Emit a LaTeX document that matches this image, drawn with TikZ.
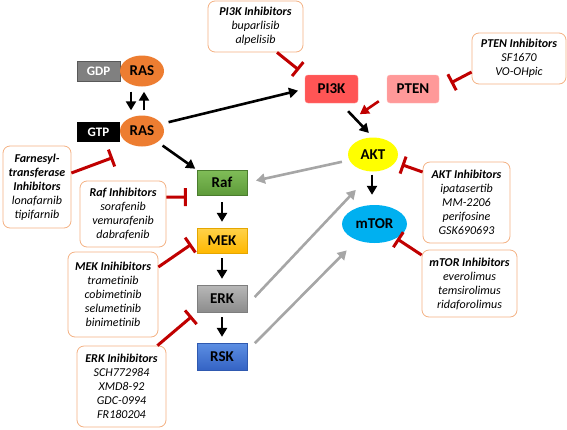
\documentclass[tikz,border=0pt]{standalone}
\usepackage{fontspec}
\setmainfont{Carlito}
\usetikzlibrary{arrows.meta,shapes.geometric}
\definecolor{boxor}{HTML}{F4B183}
\definecolor{inhred}{HTML}{C00000}
\definecolor{arrgray}{HTML}{A6A6A6}
\definecolor{rasor}{HTML}{ED7D31}
\definecolor{pikred}{HTML}{FF5555}
\definecolor{ptenpink}{HTML}{FF9999}
\definecolor{aktyel}{HTML}{FFFF00}
\definecolor{mtorblue}{HTML}{00B0F0}
\definecolor{raftop}{HTML}{80BD58}
\definecolor{rafbot}{HTML}{5E9B3A}
\definecolor{mektop}{HTML}{FFD24A}
\definecolor{mekbot}{HTML}{FFB800}
\definecolor{erktop}{HTML}{B8B8B8}
\definecolor{erkbot}{HTML}{8C8C8C}
\definecolor{rsktop}{HTML}{5D8FE3}
\definecolor{rskbot}{HTML}{3463C4}
\begin{document}
\begin{tikzpicture}[x=1pt,y=-1pt,
  inhbox/.style={draw=boxor, line width=0.8pt, rounded corners=7pt, fill=white,
    align=center, font=\fontsize{12}{14}\selectfont\itshape, inner sep=1pt},
  kbox/.style={rounded corners=3pt, font=\fontsize{15}{16}\selectfont\bfseries, inner sep=0pt},
  gbox/.style={font=\fontsize{13}{14}\selectfont\bfseries, text=white, inner sep=0pt,
    minimum width=43pt, minimum height=20pt},
  kell/.style={ellipse, font=\fontsize{15}{16}\selectfont\bfseries, inner sep=0pt},
  blk/.style={line width=2.6pt, -{Triangle[width=10pt,length=9pt]}},
  gry/.style={blk, draw=arrgray},
  redarr/.style={blk, draw=inhred},
  inh/.style={draw=inhred, line width=3pt, -{Bar[width=18pt]}},
  grad/.style={kbox, rounded corners=0pt, line width=0.3pt, minimum width=50pt}]
\useasboundingbox (0,0) rectangle (567,429);

% RAS
\node[gbox, fill=black!50, draw=black!65, line width=0.6pt] (gdp) at (98.5,71) {GDP};
\node[kell, fill=rasor, minimum width=44pt, minimum height=31pt] (ras1) at (142,71) {RAS};
\node[gbox, fill=black] (gtp) at (98.5,132) {GTP};
\node[kell, fill=rasor, minimum width=44pt, minimum height=31pt] (ras2) at (142,131) {RAS};

% kinases
\node[kbox, fill=pikred, draw=pikred!70!white, minimum width=53pt, minimum height=28pt] (pi3k) at (331.5,89) {PI3K};
\node[kbox, fill=ptenpink, draw=ptenpink!70!white, minimum width=52pt, minimum height=28pt] (pten) at (413,89) {PTEN};
\node[kell, fill=aktyel, minimum width=50pt, minimum height=34pt] (akt) at (373,154.5) {AKT};
\node[kell, fill=mtorblue, minimum width=65pt, minimum height=38pt] (mtor) at (374.5,224) {mTOR};

\node[grad, top color=raftop, bottom color=rafbot, draw=rafbot!80!black, minimum height=25pt] (raf) at (222,182.5) {Raf};
\node[grad, top color=mektop, bottom color=mekbot, draw=mekbot!90!black, minimum height=25pt] (mek) at (222,240.5) {MEK};
\node[grad, top color=erktop, bottom color=erkbot, draw=erkbot!90!black, minimum height=27pt] (erk) at (222,298.5) {ERK};
\node[grad, top color=rsktop, bottom color=rskbot, draw=rskbot!90!black, minimum height=27pt] (rsk) at (222,356.5) {RSK};

% inhibitor boxes
\node[inhbox, minimum width=95pt, minimum height=51pt] (pi3kinh) at (255.5,26.5)
  {\textbf{PI3K Inhibitors}\\buparlisib\\alpelisib};
\node[inhbox, minimum width=94pt, minimum height=51pt] (pteninh) at (519,58.5)
  {\textbf{PTEN Inhibitors}\\SF1670\\VO-OHpic};
\node[inhbox, minimum width=68pt, minimum height=82pt] (farn) at (37,187)
  {\textbf{Farnesyl-}\\\textbf{transferase}\\\textbf{Inhibitors}\\lonafarnib\\tipifarnib};
\node[inhbox, minimum width=86pt, minimum height=66pt] (rafinh) at (123,214)
  {\textbf{Raf Inhibitors}\\sorafenib\\vemurafenib\\dabrafenib};
\node[inhbox, minimum width=90pt, minimum height=85pt] (mekinh) at (113,294.5)
  {\textbf{MEK Inihibitors}\\trametinib\\cobimetinib\\selumetinib\\binimetinib};
\node[inhbox, minimum width=89pt, minimum height=81pt] (erkinh) at (121.5,386.5)
  {\textbf{ERK Inihibitors}\\SCH772984\\XMD8-92\\GDC-0994\\FR180204};
\node[inhbox, minimum width=87pt, minimum height=81pt] (aktinh) at (466.5,202.5)
  {\textbf{AKT Inhibitors}\\ipatasertib\\MM-2206\\perifosine\\GSK690693};
\node[inhbox, minimum width=95pt, minimum height=67pt] (mtorinh) at (469.5,283.5)
  {\textbf{mTOR Inhibitors}\\everolimus\\temsirolimus\\ridaforolimus};

% black arrows
\draw[blk, shorten <=5pt, shorten >=5pt] ([xshift=-11pt]ras1.south) -- ([xshift=-11pt]ras2.north);
\draw[blk, shorten <=5pt, shorten >=5pt] ([xshift=2pt]ras2.north) -- ([xshift=2pt]ras1.south);
\draw[blk, shorten <=7pt, shorten >=7pt] (ras2.20) -- (pi3k.west);
\draw[blk, shorten <=6pt, shorten >=2pt] (ras2.south east) -- (raf.north west);
\draw[blk, shorten <=11pt, shorten >=6pt] ([xshift=9pt]pi3k.south) -- (akt.north);
\draw[redarr, shorten >=0pt] ([shift={(-8pt,2pt)}]pten.south west) -- ([shift={(-27pt,-11pt)}]pten.south west);
\draw[blk, shorten <=3pt, shorten >=10pt] ([xshift=-1pt]akt.south) -- ([xshift=-2.5pt]mtor.north);
\draw[blk, shorten <=7pt, shorten >=6pt] (raf.south) -- (mek.north);
\draw[blk, shorten <=5pt, shorten >=6pt] (mek.south) -- (erk.north);
\draw[blk, shorten <=5pt, shorten >=6pt] (erk.south) -- (rsk.north);

% gray arrows
\draw[gry, shorten <=6pt, shorten >=9pt] ([yshift=-6pt]akt.west) -- (raf.east);
\draw[gry, shorten <=11pt, shorten >=25pt] ([yshift=-6.5pt]erk.east) -- (akt.south);
\draw[gry, shorten <=11pt, shorten >=18pt] ([yshift=5.5pt]rsk.east) -- ([xshift=8pt]mtor.south west);

% inhibition lines
\draw[inh, shorten >=31pt] ([yshift=14pt]farn.east) -- (ras2.south);
\draw[inh, shorten >=10pt] ([yshift=17pt]rafinh.east) -- ([yshift=-2pt]raf.south west);
\draw[inh, shorten >=6.5pt] ([yshift=27.5pt]mekinh.east) -- (mek.west);
\draw[inh, shorten >=6.4pt] ([xshift=-9pt]erkinh.north east) -- (erk.south west);
\draw[inh, shorten >=7.6pt] ([xshift=21.5pt]pi3kinh.south) -- (pi3k.north west);
\draw[inh, shorten >=13pt] ([yshift=-13.5pt]pteninh.west) -- (pten.east);
\draw[inh, shorten >=30.4pt] ([yshift=30.5pt]aktinh.west) -- (akt.center);
\draw[inh, shorten >=27pt] ([yshift=28.5pt]mtorinh.west) -- (mtor.center);
\end{tikzpicture}
\end{document}
